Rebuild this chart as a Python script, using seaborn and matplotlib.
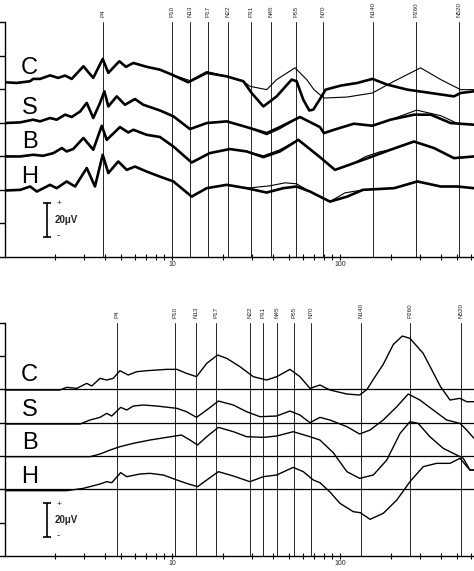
import matplotlib
matplotlib.use("Agg")
import matplotlib.pyplot as plt
import matplotlib.ticker as mticker
import matplotlib.transforms as mtransforms
import seaborn as sns

sns.set_style("ticks")
plt.rcParams['font.family'] = ['Liberation Sans', 'DejaVu Sans']

# component labels and latencies (ms) of the marker lines
comp_labels = ["P4", "P10", "N13", "P17", "N22", "P31", "N45", "P55", "N70", "N140", "P260", "N520"]
top_lat = [3.88, 10.0, 12.8, 16.4, 21.5, 29.4, 38.7, 54.7, 79.6, 156.6, 282, 513]
bot_lat = [4.73, 10.4, 13.9, 18.3, 29.0, 35.0, 42.2, 53.1, 67.6, 133, 260, 523]
groups = ["C", "S", "B", "H"]

# ---- upper panel: averaged responses (thick) with repeat (thin), uV ----
top_c_t = [1.01, 1.19, 1.43, 1.49, 1.64, 1.88, 2.1, 2.31, 2.53, 2.97, 3.4, 3.87, 4.18, 4.86, 5.32, 5.89, 7.07,
           8.48, 9.96, 12.5, 16.1, 21.2, 26.6, 29.8, 35.0, 42.0, 51.6, 55.2, 60.5, 65.7, 69.4, 76.7, 82.2, 101,
           127, 156, 191, 252, 347, 477, 523, 628]
top_c_v = [104.1, 103.7, 104.7, 106.1, 106.1, 108.2, 106.7, 108.1, 106.1, 113.6, 106.7, 118.0, 109.7, 116.6,
           113.3, 115.6, 113.3, 111.6, 108.7, 104.1, 109.7, 107.6, 104.7, 97.7, 89.7, 95.7, 105.7, 104.7, 93.7,
           87.3, 87.8, 94.7, 99.7, 102.1, 103.7, 106.1, 102.7, 99.7, 97.7, 95.7, 97.7, 98.7]
top_c2_t = [9.96, 12.8, 16.1, 21.2, 26.6, 29.1, 36.6, 42.0, 54.0, 63.4, 70.0, 80.3, 110.5, 156, 210, 302, 398,
            523, 628]
top_c2_v = [108.7, 105.1, 110.5, 107.6, 104.7, 101.7, 99.7, 105.7, 112.7, 105.7, 99.7, 94.7, 95.3, 97.7, 104.7,
            112.7, 105.7, 99.7, 99.7]

top_s_t = [1.01, 1.25, 1.49, 1.64, 1.88, 2.06, 2.31, 2.53, 2.84, 3.11, 3.4, 3.73, 3.96, 4.18, 4.69, 5.25, 6.02,
           6.75, 8.48, 10.2, 12.8, 16.1, 21.2, 27.8, 36.6, 43.9, 57.8, 76.0, 80.3, 92.1, 121, 156, 200, 276, 347,
           456, 628]
top_s_v = [79.8, 80.2, 81.8, 80.8, 82.8, 81.8, 84.8, 83.4, 86.7, 91.8, 82.8, 91.8, 98.7, 89.7, 95.7, 90.7, 94.1,
           90.7, 87.3, 83.8, 76.2, 79.8, 80.8, 77.4, 73.8, 77.4, 83.4, 77.4, 73.8, 75.8, 79.4, 78.2, 81.8, 84.8,
           84.8, 79.8, 78.8]
top_s2_t = [27.8, 36.6, 43.9, 57.8, 76.0, 80.3, 92.1, 121, 156, 200, 286, 398, 495]
top_s2_v = [77.4, 72.8, 76.4, 83.4, 77.4, 73.8, 75.8, 79.4, 78.2, 81.8, 87.5, 84.2, 79.8]

top_b_t = [1.01, 1.25, 1.49, 1.71, 1.97, 2.21, 2.36, 2.58, 2.97, 3.4, 3.82, 4.09, 4.9, 5.49, 5.89, 7.07, 8.48,
           10.2, 13.1, 16.8, 22.1, 27.8, 35.0, 43.9, 56.5, 76.0, 93.4, 121, 156, 200, 276, 363, 477, 628]
top_b_v = [59.9, 59.9, 60.9, 60.3, 61.9, 64.9, 62.9, 64.3, 70.9, 63.9, 78.2, 69.8, 77.4, 74.2, 75.8, 72.8, 71.5,
           65.8, 56.3, 61.9, 64.3, 62.9, 59.5, 62.9, 69.8, 59.5, 51.9, 55.9, 59.9, 63.9, 68.8, 64.9, 58.9, 59.9]
top_b2_t = [27.8, 35.0, 43.9, 56.5, 76.0, 93.4, 121, 141, 173, 200, 276, 363, 477]
top_b2_v = [62.9, 60.3, 63.9, 69.8, 59.5, 51.9, 55.9, 59.7, 62.7, 63.9, 68.8, 64.9, 58.9]

top_h_t = [1.01, 1.25, 1.43, 1.57, 1.88, 2.06, 2.36, 2.65, 3.11, 3.48, 3.87, 4.18, 4.79, 5.38, 6.02, 7.07, 8.48,
           10.2, 13.1, 16.1, 21.2, 27.8, 36.6, 46.0, 55.2, 66.3, 87.2, 110.5, 137, 210, 289, 398, 499, 628]
top_h_v = [39.6, 40.0, 42.0, 39.0, 43.0, 41.0, 45.0, 42.0, 53.0, 42.0, 60.9, 50.0, 56.9, 51.9, 53.9, 50.9, 47.9,
           45.0, 36.0, 41.0, 43.0, 41.0, 38.4, 41.0, 42.0, 39.0, 33.0, 36.0, 40.0, 41.0, 45.0, 42.0, 42.0, 41.0]
top_h2_t = [27.8, 38.3, 47.1, 55.2, 66.3, 87.2, 107, 137]
top_h2_v = [41.0, 42.4, 44.2, 43.6, 39.0, 33.0, 38.2, 40.0]

# ---- lower panel: single traces on their baselines, uV ----
bot_base = [100, 80, 60, 40]
bot_c_t = [1.01, 2.15, 2.36, 2.71, 3.11, 3.33, 3.73, 4.09, 4.47, 4.9, 5.49, 6.17, 7.07, 9.3, 10.7, 12.2, 14.0,
           16.1, 18.7, 21.2, 25.4, 30.5, 36.6, 42.0, 50.4, 57.8, 66.3, 76.0, 87.2, 110, 131, 145, 158, 181, 208,
           235, 261, 313, 397, 452, 518, 568, 628]
bot_c_v = [99.6, 99.6, 101.2, 100.6, 103.6, 102.0, 106.6, 105.6, 106.6, 111.2, 108.6, 110.6, 111.2, 112.0,
           112.0, 109.6, 107.6, 115.6, 120.6, 118.6, 113.6, 107.6, 105.6, 107.6, 112.0, 107.6, 100.6, 102.6, 99.6,
           97.2, 96.6, 100.0, 106.0, 115.0, 127.0, 132.0, 130.6, 121.6, 101.6, 93.6, 94.6, 92.6, 92.6]
bot_s_t = [1.01, 2.84, 3.25, 3.73, 4.09, 4.38, 4.95, 5.38, 5.89, 6.75, 8.11, 10.7, 12.2, 14.0, 16.1, 18.9, 23.2,
           27.8, 33.4, 42.0, 50.4, 57.8, 66.3, 76.0, 87.2, 110, 131, 151, 181, 218, 255, 299, 359, 432, 518, 568,
           628]
bot_s_v = [79.2, 79.2, 81.6, 83.2, 85.6, 84.0, 89.2, 87.6, 90.0, 90.6, 90.0, 88.6, 86.6, 83.2, 87.6, 93.0, 90.6,
           86.6, 83.6, 84.0, 87.0, 84.6, 80.0, 83.2, 81.6, 77.6, 73.2, 75.6, 81.6, 89.6, 97.2, 93.6, 87.6, 81.6,
           79.6, 75.6, 70.6]
bot_b_t = [1.01, 3.25, 3.73, 4.28, 4.9, 5.89, 7.4, 9.3, 11.4, 12.8, 14.2, 16.1, 18.9, 23.2, 27.8, 35.0, 42.0,
           52.7, 66.3, 76.0, 91.2, 110, 131, 158, 190, 228, 261, 292, 343, 412, 495, 542, 594, 628]
bot_b_v = [59.6, 59.6, 61.2, 63.6, 65.6, 67.6, 69.6, 71.2, 72.6, 69.6, 66.6, 71.6, 77.2, 74.6, 71.6, 71.2, 72.0,
           74.6, 71.6, 69.6, 62.0, 50.6, 46.6, 48.6, 57.6, 73.6, 80.6, 79.6, 71.6, 64.6, 60.6, 58.6, 51.6, 51.6]
bot_h_t = [1.01, 2.36, 2.97, 3.73, 4.09, 4.38, 4.95, 5.38, 6.45, 7.4, 8.88, 10.7, 12.2, 14.2, 16.1, 18.9, 23.2,
           29.1, 35.0, 42.0, 52.7, 60.5, 69.4, 76.0, 87.2, 100, 120, 132, 151, 181, 218, 261, 313, 376, 452, 518,
           594, 628]
bot_h_v = [39.2, 39.2, 40.6, 43.2, 44.6, 44.0, 50.0, 47.6, 49.2, 49.6, 48.6, 45.6, 43.6, 41.6, 45.6, 50.6, 48.0,
           44.6, 47.6, 48.6, 53.2, 50.6, 45.6, 44.0, 38.4, 31.6, 26.6, 26.0, 22.0, 25.6, 33.6, 44.6, 53.6, 55.6,
           55.6, 58.6, 51.6, 51.6]

scale_uv = 20

fig = plt.figure(figsize=(4.74, 5.71), dpi=100)
ax1 = fig.add_axes([5 / 474, 314 / 571, 469 / 474, 235 / 571])
ax2 = fig.add_axes([5 / 474, 15 / 571, 469 / 474, 233.3 / 571])


def setup(ax, lat):
    ax.set_xscale("log")
    ax.set_xlim(1.014, 628)
    ax.set_ylim(0, 140)
    ax.set_yticks(range(0, 141, 20))
    ax.set_yticklabels([])
    ax.set_xticks([10, 100])
    ax.set_xticklabels(["10", "100"])
    ax.xaxis.set_minor_locator(mticker.LogLocator(base=10, subs=range(2, 10), numticks=20))
    ax.xaxis.set_minor_formatter(mticker.NullFormatter())
    for s in ["top", "right"]:
        ax.spines[s].set_visible(False)
    for s in ["left", "bottom"]:
        ax.spines[s].set_linewidth(1.0)
        ax.spines[s].set_color("black")
    ax.tick_params(axis="y", which="major", direction="out", length=4, width=1, color="black")
    ax.tick_params(axis="x", which="both", direction="inout", length=4, width=0.8, color="black",
                   labelsize=5, pad=1)
    ax.set_facecolor("white")
    trans = mtransforms.blended_transform_factory(ax.transData, ax.transAxes)
    for t, lab in zip(lat, comp_labels):
        ax.axvline(t, color="0.15", lw=0.7, zorder=1)
        ax.text(t, 1.02, lab, transform=trans, rotation=90, fontsize=4.5, ha="center", va="bottom")


setup(ax1, top_lat)
setup(ax2, bot_lat)

# upper traces
for t, v in [(top_c_t, top_c_v), (top_s_t, top_s_v), (top_b_t, top_b_v), (top_h_t, top_h_v)]:
    sns.lineplot(x=t, y=v, ax=ax1, color="black", lw=1.9, sort=False, estimator=None,
                 solid_joinstyle="round", solid_capstyle="round", zorder=3)
for t, v in [(top_c2_t, top_c2_v), (top_s2_t, top_s2_v), (top_b2_t, top_b2_v), (top_h2_t, top_h2_v)]:
    sns.lineplot(x=t, y=v, ax=ax1, color="black", lw=0.8, sort=False, estimator=None, zorder=4)

# lower baselines and traces
for b in bot_base:
    ax2.axhline(b, color="black", lw=0.9, zorder=1)
for t, v in [(bot_c_t, bot_c_v), (bot_s_t, bot_s_v), (bot_b_t, bot_b_v), (bot_h_t, bot_h_v)]:
    sns.lineplot(x=t, y=v, ax=ax2, color="black", lw=1.0, sort=False, estimator=None,
                 solid_joinstyle="round", zorder=3)

# group letters
for ax, ys in [(ax1, [112.8, 89.0, 68.7, 47.8]), (ax2, [108.6, 87.6, 67.8, 47.4])]:
    for g, y in zip(groups, ys):
        ax.text(1.42, y, g, fontsize=17, ha="center", va="center", color="black")

# 20 uV calibration bars
for ax, y0 in [(ax1, 12.1), (ax2, 11.6)]:
    ax.errorbar([1.8], [y0 + scale_uv / 2], yerr=[scale_uv / 2], color="black", lw=1.2, capsize=3,
                capthick=1.2)
    ax.text(2.05, y0 + scale_uv * 0.98, "+", fontsize=6, ha="left", va="center")
    ax.text(2.0, y0 + scale_uv / 2, "20\u03bcV", fontsize=7, fontweight="bold", ha="left", va="center")
    ax.text(2.05, y0 + scale_uv * 0.05, "-", fontsize=7, ha="left", va="center")

fig.savefig("out.png", dpi=100, facecolor="white")
